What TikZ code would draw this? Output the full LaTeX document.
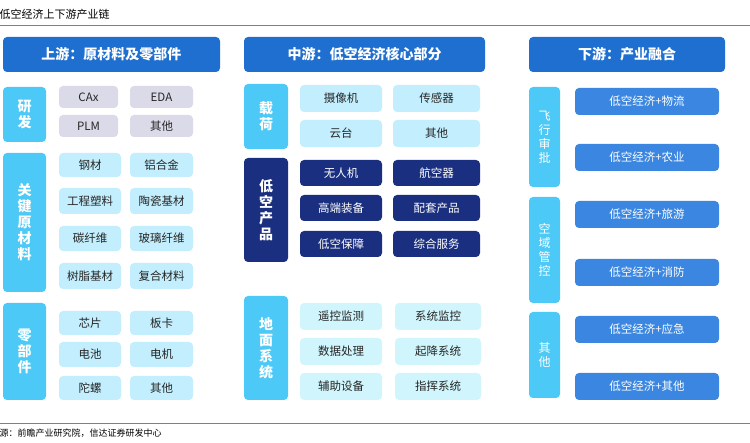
\documentclass[tikz,border=0pt]{standalone}
\usepackage{fontspec}
\setmainfont{Noto Sans CJK SC}
\usetikzlibrary{positioning}
\definecolor{headblue}{HTML}{1F6FD0}
\definecolor{catcyan}{HTML}{4CC9F6}
\definecolor{itemcyan}{HTML}{C2EEFD}
\definecolor{itemgray}{HTML}{DADAE8}
\definecolor{navy}{HTML}{1A2F80}
\definecolor{paleblue}{HTML}{D0F5FC}
\definecolor{midblue}{HTML}{3A86E0}
\tikzset{
  box/.style={rounded corners=4pt, inner sep=0pt, align=center},
  headbox/.style={box, fill=headblue, text=white, font=\fontsize{14}{16}\selectfont\bfseries},
  catbox/.style={box, fill=catcyan, text=white, font=\fontsize{14}{16}\selectfont\bfseries},
  itembox/.style={box, fill=itemcyan, text=black!85, font=\fontsize{11.5}{13}\selectfont},
}
% box by corners: \bx{style}{name}{x1}{y1}{x2}{y2}{text}
\newcommand{\bx}[7]{\node[#1, minimum width={(#5)-(#3)}, minimum height={(#6)-(#4)}] (#2) at ({((#3)+(#5))/2},{((#4)+(#6))/2}) {#7};}
\begin{document}
\begin{tikzpicture}[x=1pt,y=-1pt]
  \useasboundingbox (0,0) rectangle (750,443);
  % Title and rules
  \node[anchor=west, font=\fontsize{11}{13}\selectfont\itshape] (title) at (-4,14) {低空经济上下游产业链};
  \draw[black!50, line width=0.8pt] (0,25) -- (750,25);
  \draw[black!50, line width=0.8pt] (0,423) -- (750,423);
  \node[anchor=west, font=\fontsize{9}{11}\selectfont\itshape] (src) at (-4,433) {源：前瞻产业研究院，信达证券研发中心};

  % Headers
  \bx{headbox}{hup}{3}{37}{220}{72}{上游：原材料及零部件}
  \bx{headbox}{hmid}{244}{37}{485}{72}{中游：低空经济核心部分}
  \bx{headbox}{hdown}{529}{37}{725}{72}{下游：产业融合}

  % Upstream
  \bx{catbox}{yf}{3}{87}{46}{142}{研\\发}
  \bx{itembox, fill=itemgray}{cax}{59}{86}{118}{108}{CAx}
  \bx{itembox, fill=itemgray}{eda}{130}{86}{193}{108}{EDA}
  \bx{itembox, fill=itemgray}{plm}{59}{115}{118}{137}{PLM}
  \bx{itembox, fill=itemgray}{qt1}{130}{115}{193}{137}{其他}
  \bx{catbox}{gj}{3}{153}{46}{292}{关\\键\\原\\材\\料}
  \bx{itembox}{gc}{59}{153}{121}{177}{钢材}
  \bx{itembox}{lhj}{130}{153}{193}{177}{铝合金}
  \bx{itembox}{gcsl}{59}{188}{121}{214}{工程塑料}
  \bx{itembox}{tc}{130}{188}{193}{214}{陶瓷基材}
  \bx{itembox}{txw}{59}{226}{121}{251}{碳纤维}
  \bx{itembox}{blxw}{130}{226}{193}{251}{玻璃纤维}
  \bx{itembox}{szjc}{59}{263}{121}{289}{树脂基材}
  \bx{itembox}{fhcl}{130}{263}{193}{289}{复合材料}
  \bx{catbox}{ljb}{3}{303}{46}{400}{零\\部\\件}
  \bx{itembox}{xp}{59}{311}{121}{335}{芯片}
  \bx{itembox}{bk}{130}{311}{193}{335}{板卡}
  \bx{itembox}{dc}{59}{342}{121}{367}{电池}
  \bx{itembox}{dj}{130}{342}{193}{367}{电机}
  \bx{itembox}{tl}{59}{376}{121}{400}{陀螺}
  \bx{itembox}{qt2}{130}{376}{193}{400}{其他}

  % Midstream
  \bx{catbox}{zh}{244}{84}{288}{149}{载\\荷}
  \bx{itembox}{sxj}{300}{85}{382}{112}{摄像机}
  \bx{itembox}{cgq}{393}{85}{480}{112}{传感器}
  \bx{itembox}{yt}{300}{120}{382}{147}{云台}
  \bx{itembox}{qt3}{393}{120}{480}{147}{其他}
  \bx{catbox, fill=navy}{dkcp}{244}{158}{288}{262}{低\\空\\产\\品}
  \bx{itembox, fill=navy, text=white}{wrj}{300}{160}{382}{186}{无人机}
  \bx{itembox, fill=navy, text=white}{hkq}{393}{160}{480}{186}{航空器}
  \bx{itembox, fill=navy, text=white}{gdzb}{300}{195}{382}{221}{高端装备}
  \bx{itembox, fill=navy, text=white}{ptcp}{393}{195}{480}{221}{配套产品}
  \bx{itembox, fill=navy, text=white}{dkbz}{300}{231}{382}{257}{低空保障}
  \bx{itembox, fill=navy, text=white}{zhfw}{393}{231}{480}{257}{综合服务}
  \bx{catbox}{dmxt}{244}{296}{288}{400}{地\\面\\系\\统}
  \bx{itembox, fill=paleblue}{ykjc}{300}{303}{382}{330}{遥控监测}
  \bx{itembox, fill=paleblue}{xtjk}{395}{303}{481}{330}{系统监控}
  \bx{itembox, fill=paleblue}{sjcl}{300}{338}{382}{365}{数据处理}
  \bx{itembox, fill=paleblue}{qjxt}{395}{338}{481}{365}{起降系统}
  \bx{itembox, fill=paleblue}{fzsb}{300}{373}{382}{400}{辅助设备}
  \bx{itembox, fill=paleblue}{zhxt}{395}{373}{481}{400}{指挥系统}

  % Downstream
  \bx{catbox, font=\fontsize{12}{14}\selectfont}{fxsp}{529}{87}{560}{187}{飞\\行\\审\\批}
  \bx{catbox, font=\fontsize{12}{14}\selectfont}{kygk}{529}{197}{560}{303}{空\\域\\管\\控}
  \bx{catbox, font=\fontsize{12}{14}\selectfont}{qtd}{529}{312}{560}{398}{其\\他}
  \foreach \ya/\nm/\tx in {88/wl/物流, 144/ny/农业, 201/ly/旅游, 259/xf/消防, 316/yj/应急, 373/qt/其他} {
    \bx{itembox, fill=midblue, text=white}{d\nm}{575}{\ya}{719}{\ya+27}{低空经济+\tx}
  }
\end{tikzpicture}
\end{document}
